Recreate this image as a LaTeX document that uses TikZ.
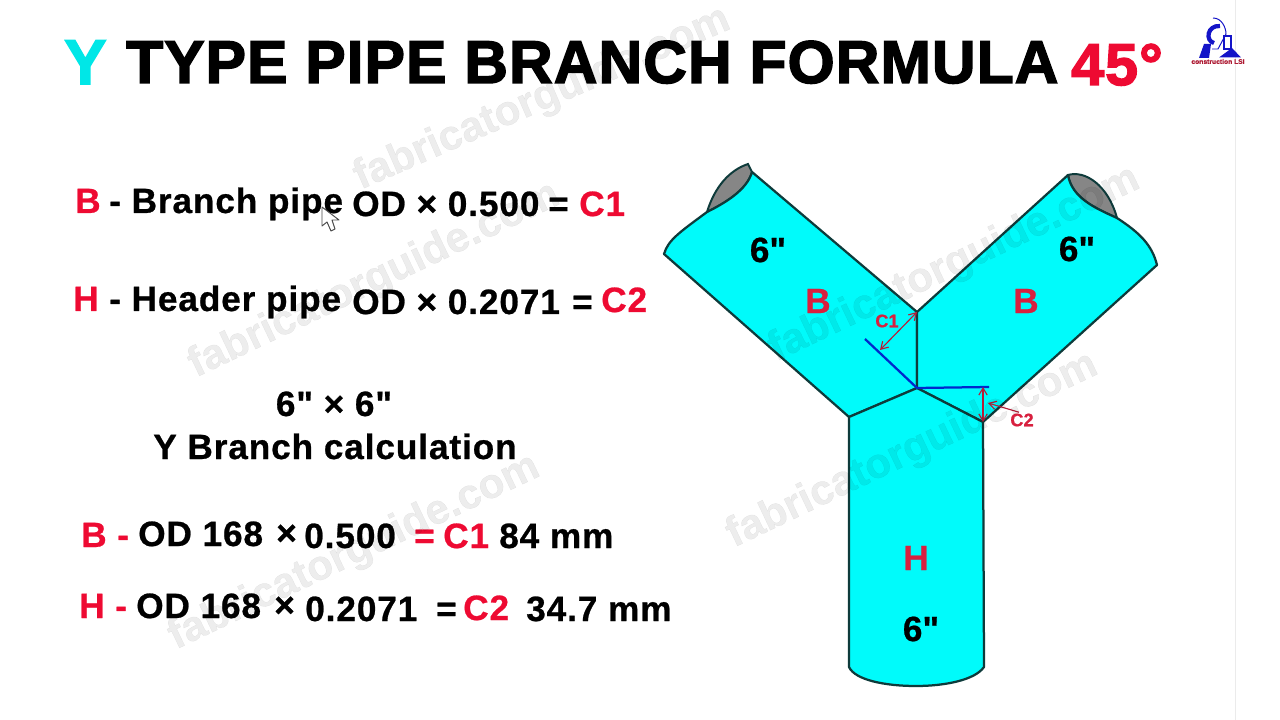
\documentclass[tikz,border=0pt]{standalone}
\usepackage{fontspec}
\setmainfont{Liberation Sans}
\usetikzlibrary{arrows.meta}
\definecolor{pipecyan}{HTML}{00FBFB}
\definecolor{pipeline}{HTML}{0E3B3B}
\definecolor{redtxt}{HTML}{EE0A32}
\definecolor{redlbl}{HTML}{D8203F}
\definecolor{capgray}{HTML}{868686}
\definecolor{logoblue}{HTML}{1414C8}
\newcommand{\rd}[1]{\textcolor{redtxt}{#1}}
\newfontfamily\heavyfont{Liberation Sans Bold}[FakeBold=2.4,LetterSpace=1.8]
\newfontfamily\arialfont{Liberation Sans Bold}[FakeBold=0.7,LetterSpace=2.6]
\newfontfamily\plainbold{Liberation Sans Bold}[FakeBold=0.6]
\newcommand{\bodyfont}{\arialfont\fontsize{25}{30}\selectfont}
\tikzset{
  bodytext/.style={anchor=base west,inner sep=0pt,font=\bodyfont},
  pipelabel/.style={inner sep=0pt,font=\plainbold\fontsize{25}{30}\selectfont},
  pipe/.style={fill=pipecyan,draw=pipeline,line width=1.6pt,line join=round},
  dimline/.style={draw=redlbl!85!black,line width=0.8pt,{Straight Barb[length=5pt,width=6pt]}-{Straight Barb[length=5pt,width=6pt]}},
  waterm/.style={rotate=25.5,anchor=west,inner sep=0pt,text=black,opacity=.07,font=\plainbold\fontsize{30}{36}\selectfont}
}
\begin{document}
\begin{tikzpicture}[x=0.025cm,y=-0.025cm]
\useasboundingbox (0,0) rectangle (1280,720);
\fill[white] (0,0) rectangle (1280,720);
\draw[black!8,line width=0.7pt] (1235,0) -- (1235,720);

% Title
\node[anchor=base west,inner sep=0pt,text=pipecyan!92!black,font=\heavyfont\fontsize{45}{50}\selectfont] (titley) at (64,84) {Y};
\node[anchor=base west,inner sep=0pt,font=\heavyfont\fontsize{43}{50}\selectfont] (title) at (126,83) {TYPE PIPE BRANCH FORMULA};
\node[anchor=base west,inner sep=0pt,text=redtxt,font=\heavyfont\fontsize{42}{50}\selectfont] (angle) at (1071,85) {45°};

% Formula lines
\node[bodytext] (bname) at (75,213) {\rd{B}};
\node[bodytext] (btext) at (109,213) {- Branch pipe};
\node[bodytext] (bform) at (352,216) {OD × 0.500};
\node[bodytext] (beq) at (548,216) {=};
\node[bodytext] (bres) at (579,216) {\rd{C1}};

\node[bodytext] (hname) at (73,311) {\rd{H}};
\node[bodytext] (htext) at (109,311) {- Header pipe};
\node[bodytext] (hform) at (352,314) {OD × 0.2071};
\node[bodytext] (heq) at (572,314) {=};
\node[bodytext] (hres) at (601,312) {\rd{C2}};

% Size
\node[bodytext,anchor=base] (size) at (334,416) {6" × 6"};
\node[bodytext,anchor=base] (calc) at (335,459) {Y Branch calculation};

% Worked values
\node[bodytext] (wbname) at (81,547) {\rd{B -}};
\node[bodytext] (wbform) at (138,546) {OD 168};
\node[bodytext] (wbx) at (276,545) {×};
\node[bodytext] (wbval) at (304,548) {0.500};
\node[bodytext] (wbeq) at (414,548) {\rd{=}};
\node[bodytext] (wbres) at (443,548) {\rd{C1}};
\node[bodytext] (wbmm) at (499,548) {84 mm};

\node[bodytext] (whname) at (79,618) {\rd{H -}};
\node[bodytext] (whform) at (136,618) {OD 168};
\node[bodytext] (whx) at (274,617) {×};
\node[bodytext] (whval) at (305,621) {0.2071};
\node[bodytext] (wheq) at (436,621) {=};
\node[bodytext] (whres) at (463,620) {\rd{C2}};
\node[bodytext] (whmm) at (526,621) {34.7 mm};

% Pipe points
\coordinate (vee) at (917,312);
\coordinate (mid) at (917,388);
\coordinate (lowl) at (849,417);
\coordinate (lowr) at (983,422);

% Caps
\fill[capgray,draw=pipeline,line width=1.4pt] (707,212) .. controls (715,186) and (730,170) .. (748,164) -- (752,172) .. controls (747,190) and (725,203) .. (707,212) -- cycle;
\fill[capgray,draw=pipeline,line width=1.4pt] (1068,175) .. controls (1085,170) and (1108,185) .. (1117,218) .. controls (1095,208) and (1072,198) .. (1068,175) -- cycle;

% Branches and header
\draw[pipe] (752,172) -- (vee) -- (mid) -- (lowl) -- (664,254) .. controls (668,240) and (680,232) .. (707,212) .. controls (725,203) and (747,190) .. (752,172) -- cycle;
\draw[pipe] (1068,175) -- (vee) -- (mid) -- (lowr) -- (1157,265) .. controls (1152,245) and (1140,233) .. (1117,218) .. controls (1095,208) and (1072,198) .. (1068,175) -- cycle;
\draw[pipe] (lowl) -- (mid) -- (lowr) -- (984,667) .. controls (975,680) and (945,686) .. (916,686) .. controls (885,686) and (855,680) .. (849,667) -- cycle;

% Blue lines
\coordinate (bluea) at (865,339);
\coordinate (blueb) at (989,387);
\draw[blue!80!cyan!80!black,line width=1.6pt] (bluea) -- (mid) -- (blueb);

% C1 and C2
\coordinate (cona) at (880,350);
\coordinate (conb) at (983,387);
\coordinate (c2tip) at (988,403);
\draw[dimline] (vee) -- (cona);
\draw[dimline] (conb) -- (lowr);
\node[inner sep=0pt,text=redlbl,font=\plainbold\fontsize{13}{15}\selectfont] (cone) at (887,321) {C1};
\node[inner sep=0pt,text=redlbl,font=\plainbold\fontsize{13}{15}\selectfont] (ctwo) at (1022,420) {C2};
\draw[redlbl!85!black,line width=0.8pt,-{Straight Barb[length=5pt,width=6pt]}] (ctwo.north) ++(-3,-1) -- (c2tip);

% Pipe labels
\node[pipelabel] (bsizel) at (768,250) {6"};
\node[pipelabel] (bsizer) at (1077,249) {6"};
\node[pipelabel,text=redlbl] (bl) at (818,301) {B};
\node[pipelabel,text=redlbl] (br) at (1026,301) {B};
\node[pipelabel,text=redlbl] (hl) at (916,558) {H};
\node[pipelabel] (hsize) at (921,629) {6"};

% Cursor
\draw[fill=white,draw=black!70,line width=0.7pt,line join=round] (322,207) -- (322,226) -- (327,222) -- (331,231) -- (335,229) -- (332,220) -- (339,220) -- cycle;

% Logo
\fill[logoblue] (1199,58) -- (1204,44) -- (1211,44) -- (1209,58) -- cycle;
\draw[logoblue,line width=3pt] (1220,26) .. controls (1207,25) and (1205,41) .. (1214,43);
\draw[logoblue,line width=0.7pt] (1213,18) .. controls (1222,18) and (1226,28) .. (1226,34) -- (1218,49) -- (1212,49);
\draw[logoblue,line width=1pt] (1224,36) rectangle (1231,49);
\fill[logoblue] (1219,57.5) -- (1232,48) -- (1241,57.5) -- cycle;
\node[inner sep=0pt,text=redlbl!80!black,font=\plainbold\fontsize{4.8}{5}\selectfont] (logo) at (1218,61.5) {construction LSI};

% Watermarks
\node[waterm,rotate=-2] (wma) at (356,180) {fabricatorguide.com};
\node[waterm] (wmb) at (191,368) {fabricatorguide.com};
\node[waterm] (wmc) at (171,640) {fabricatorguide.com};
\node[waterm] (wmd) at (729,538) {fabricatorguide.com};
\node[waterm] (wme) at (771,352) {fabricatorguide.com};
\end{tikzpicture}
\end{document}
